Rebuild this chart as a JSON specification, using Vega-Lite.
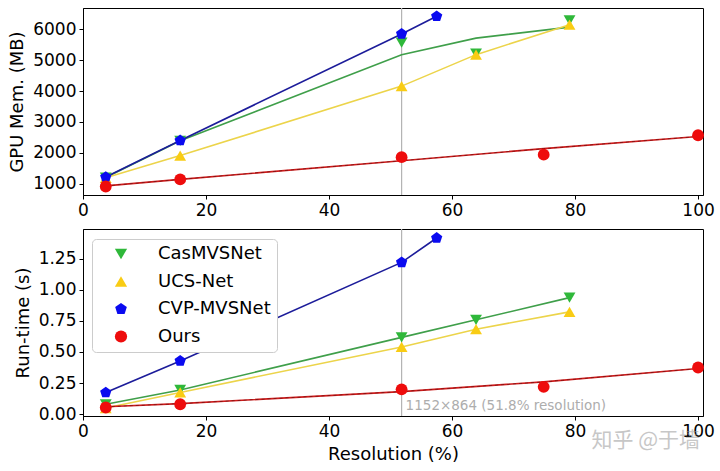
{
  "$schema": "https://vega.github.io/schema/vega-lite/v6.json",
  "background": "white",
  "padding": {"left": 8, "top": 6, "right": 14, "bottom": 4},
  "config": {
    "font": "DejaVu Sans",
    "view": {"stroke": "black", "strokeWidth": 1},
    "axis": {
      "grid": false,
      "domainColor": "black",
      "tickColor": "black",
      "labelColor": "black",
      "titleColor": "black",
      "labelFont": "DejaVu Sans",
      "titleFont": "DejaVu Sans",
      "labelFontSize": 17,
      "titleFontSize": 18,
      "titleFontWeight": "normal",
      "tickSize": 4,
      "labelPadding": 3,
      "titlePadding": 6,
      "labelOverlap": false,
      "labelFlush": false
    }
  },
  "datasets": {
    "mem_pts": [
      {"method": "CasMVSNet", "x": 3.7, "y": 1200},
      {"method": "CasMVSNet", "x": 15.8, "y": 2390},
      {"method": "CasMVSNet", "x": 51.8, "y": 5570},
      {"method": "CasMVSNet", "x": 63.9, "y": 5210},
      {"method": "CasMVSNet", "x": 79.1, "y": 6290},
      {"method": "UCS-Net", "x": 3.7, "y": 1190},
      {"method": "UCS-Net", "x": 15.8, "y": 1910},
      {"method": "UCS-Net", "x": 51.8, "y": 4160},
      {"method": "UCS-Net", "x": 63.9, "y": 5180},
      {"method": "UCS-Net", "x": 79.1, "y": 6150},
      {"method": "CVP-MVSNet", "x": 3.7, "y": 1215},
      {"method": "CVP-MVSNet", "x": 15.8, "y": 2400},
      {"method": "CVP-MVSNet", "x": 51.8, "y": 5850},
      {"method": "CVP-MVSNet", "x": 57.5, "y": 6420},
      {"method": "Ours", "x": 3.7, "y": 910},
      {"method": "Ours", "x": 15.8, "y": 1140},
      {"method": "Ours", "x": 51.8, "y": 1860},
      {"method": "Ours", "x": 74.9, "y": 1940},
      {"method": "Ours", "x": 100, "y": 2570}
    ],
    "mem_line": [
      {"method": "CasMVSNet", "x": 3.7, "y": 1200},
      {"method": "CasMVSNet", "x": 15.8, "y": 2390},
      {"method": "CasMVSNet", "x": 51.8, "y": 5175},
      {"method": "CasMVSNet", "x": 63.9, "y": 5715},
      {"method": "CasMVSNet", "x": 79.1, "y": 6070},
      {"method": "UCS-Net", "x": 3.7, "y": 1190},
      {"method": "UCS-Net", "x": 15.8, "y": 1910},
      {"method": "UCS-Net", "x": 51.8, "y": 4160},
      {"method": "UCS-Net", "x": 63.9, "y": 5180},
      {"method": "UCS-Net", "x": 79.1, "y": 6150},
      {"method": "CVP-MVSNet", "x": 3.7, "y": 1215},
      {"method": "CVP-MVSNet", "x": 15.8, "y": 2400},
      {"method": "CVP-MVSNet", "x": 51.8, "y": 5850},
      {"method": "CVP-MVSNet", "x": 57.5, "y": 6420},
      {"method": "Ours", "x": 3.7, "y": 930},
      {"method": "Ours", "x": 15.8, "y": 1140},
      {"method": "Ours", "x": 51.8, "y": 1745},
      {"method": "Ours", "x": 74.9, "y": 2135},
      {"method": "Ours", "x": 100, "y": 2530}
    ],
    "rt_pts": [
      {"method": "CasMVSNet", "x": 3.7, "y": 0.08},
      {"method": "CasMVSNet", "x": 15.8, "y": 0.195},
      {"method": "CasMVSNet", "x": 51.8, "y": 0.617},
      {"method": "CasMVSNet", "x": 63.9, "y": 0.758},
      {"method": "CasMVSNet", "x": 79.1, "y": 0.936},
      {"method": "UCS-Net", "x": 3.7, "y": 0.05},
      {"method": "UCS-Net", "x": 15.8, "y": 0.175},
      {"method": "UCS-Net", "x": 51.8, "y": 0.54},
      {"method": "UCS-Net", "x": 63.9, "y": 0.683},
      {"method": "UCS-Net", "x": 79.1, "y": 0.822},
      {"method": "CVP-MVSNet", "x": 3.7, "y": 0.174},
      {"method": "CVP-MVSNet", "x": 15.8, "y": 0.428},
      {"method": "CVP-MVSNet", "x": 51.8, "y": 1.219},
      {"method": "CVP-MVSNet", "x": 57.5, "y": 1.415},
      {"method": "Ours", "x": 3.7, "y": 0.054},
      {"method": "Ours", "x": 15.8, "y": 0.08},
      {"method": "Ours", "x": 51.8, "y": 0.2},
      {"method": "Ours", "x": 74.9, "y": 0.22},
      {"method": "Ours", "x": 100, "y": 0.375}
    ],
    "rt_line": [
      {"method": "CasMVSNet", "x": 3.7, "y": 0.08},
      {"method": "CasMVSNet", "x": 15.8, "y": 0.195},
      {"method": "CasMVSNet", "x": 51.8, "y": 0.617},
      {"method": "CasMVSNet", "x": 63.9, "y": 0.758},
      {"method": "CasMVSNet", "x": 79.1, "y": 0.936},
      {"method": "UCS-Net", "x": 3.7, "y": 0.05},
      {"method": "UCS-Net", "x": 15.8, "y": 0.175},
      {"method": "UCS-Net", "x": 51.8, "y": 0.54},
      {"method": "UCS-Net", "x": 63.9, "y": 0.683},
      {"method": "UCS-Net", "x": 79.1, "y": 0.822},
      {"method": "CVP-MVSNet", "x": 3.7, "y": 0.174},
      {"method": "CVP-MVSNet", "x": 15.8, "y": 0.428},
      {"method": "CVP-MVSNet", "x": 51.8, "y": 1.219},
      {"method": "CVP-MVSNet", "x": 57.5, "y": 1.415},
      {"method": "Ours", "x": 3.7, "y": 0.06},
      {"method": "Ours", "x": 15.8, "y": 0.085},
      {"method": "Ours", "x": 51.8, "y": 0.182},
      {"method": "Ours", "x": 74.9, "y": 0.26},
      {"method": "Ours", "x": 100, "y": 0.367}
    ],
    "ref": [{"x": 51.8, "y": 0.067, "label": "1152×864 (51.8% resolution)"}],
    "wm": [{"x": 91.5, "y": -0.215, "label": "知乎 @于墙"}]
  },
  "spacing": 8,
  "resolve": {"scale": {"color": "independent", "shape": "independent"}},
  "vconcat": [
    {
      "width": 620,
      "height": 187,
      "resolve": {"scale": {"color": "independent", "shape": "independent"}},
      "layer": [
        {
          "data": {"name": "ref"},
          "mark": {"type": "rule", "color": "#b4b4b4", "strokeWidth": 1.2},
          "encoding": {
            "x": {"field": "x", "type": "quantitative", "scale": {"domain": [0, 100.8], "nice": false}}
          }
        },
        {
          "data": {"name": "mem_line"},
          "mark": {"type": "line", "strokeWidth": 1.6},
          "encoding": {
            "x": {"field": "x", "type": "quantitative", "scale": {"domain": [0, 100.8], "nice": false},
                  "axis": {"values": [0, 20, 40, 60, 80, 100], "tickCount": 20, "title": null, "labelOverlap": false}},
            "y": {"field": "y", "type": "quantitative", "scale": {"domain": [634, 6690], "nice": false, "zero": false},
                  "axis": {"values": [1000, 2000, 3000, 4000, 5000, 6000], "tickCount": 20, "format": "d", "title": "GPU Mem. (MB)", "labelOverlap": false}},
            "color": {"field": "method", "type": "nominal",
                      "scale": {"domain": ["CasMVSNet", "UCS-Net", "CVP-MVSNet", "Ours"],
                                "range": ["#3f9f4a", "#ecd44a", "#1c1c9a", "#cc1a1a"]},
                      "legend": null}
          }
        },
        {
          "data": {"name": "mem_line"},
          "transform": [{"filter": "datum.method === 'Ours'"}],
          "mark": {"type": "line", "color": "#000000", "strokeDash": [3, 3], "strokeWidth": 0.7, "opacity": 0.45},
          "encoding": {
            "x": {"field": "x", "type": "quantitative"},
            "y": {"field": "y", "type": "quantitative"}
          }
        },
        {
          "data": {"name": "mem_pts"},
          "mark": {"type": "point", "filled": true, "opacity": 1, "size": 140, "strokeWidth": 0},
          "encoding": {
            "x": {"field": "x", "type": "quantitative"},
            "y": {"field": "y", "type": "quantitative"},
            "color": {"field": "method", "type": "nominal",
                      "scale": {"domain": ["CasMVSNet", "UCS-Net", "CVP-MVSNet", "Ours"],
                                "range": ["#2fb83a", "#f9cc14", "#0a0af0", "#ee0c0c"]},
                      "legend": null},
            "shape": {"field": "method", "type": "nominal",
                      "scale": {"domain": ["CasMVSNet", "UCS-Net", "CVP-MVSNet", "Ours"],
                                "range": ["triangle-down", "triangle-up", "M0,-1L0.951,-0.309L0.588,0.809L-0.588,0.809L-0.951,-0.309Z", "circle"]},
                      "legend": null}
          }
        }
      ]
    },
    {
      "width": 620,
      "height": 187,
      "resolve": {"scale": {"color": "independent", "shape": "independent"}},
      "layer": [
        {
          "data": {"name": "ref"},
          "mark": {"type": "rule", "color": "#b4b4b4", "strokeWidth": 1.2},
          "encoding": {
            "x": {"field": "x", "type": "quantitative", "scale": {"domain": [0, 100.8], "nice": false}}
          }
        },
        {
          "data": {"name": "rt_line"},
          "mark": {"type": "line", "strokeWidth": 1.6},
          "encoding": {
            "x": {"field": "x", "type": "quantitative", "scale": {"domain": [0, 100.8], "nice": false},
                  "axis": {"values": [0, 20, 40, 60, 80, 100], "tickCount": 20, "title": "Resolution (%)", "labelOverlap": false}},
            "y": {"field": "y", "type": "quantitative", "scale": {"domain": [-0.014, 1.487], "nice": false, "zero": false},
                  "axis": {"values": [0, 0.25, 0.5, 0.75, 1, 1.25], "tickCount": 20, "format": ".2f", "title": "Run-time (s)", "labelOverlap": false}},
            "color": {"field": "method", "type": "nominal",
                      "scale": {"domain": ["CasMVSNet", "UCS-Net", "CVP-MVSNet", "Ours"],
                                "range": ["#3f9f4a", "#ecd44a", "#1c1c9a", "#cc1a1a"]},
                      "legend": null}
          }
        },
        {
          "data": {"name": "rt_line"},
          "transform": [{"filter": "datum.method === 'Ours'"}],
          "mark": {"type": "line", "color": "#000000", "strokeDash": [3, 3], "strokeWidth": 0.7, "opacity": 0.45},
          "encoding": {
            "x": {"field": "x", "type": "quantitative"},
            "y": {"field": "y", "type": "quantitative"}
          }
        },
        {
          "data": {"name": "rt_pts"},
          "mark": {"type": "point", "filled": true, "opacity": 1, "size": 140, "strokeWidth": 0},
          "encoding": {
            "x": {"field": "x", "type": "quantitative"},
            "y": {"field": "y", "type": "quantitative"},
            "color": {"field": "method", "type": "nominal",
                      "scale": {"domain": ["CasMVSNet", "UCS-Net", "CVP-MVSNet", "Ours"],
                                "range": ["#2fb83a", "#f9cc14", "#0a0af0", "#ee0c0c"]},
                      "legend": {"title": null, "orient": "none", "legendX": 9, "legendY": 10,
                                 "fillColor": "white", "strokeColor": "#cccccc", "cornerRadius": 4, "padding": 6,
                                 "labelFontSize": 18, "labelFont": "DejaVu Sans", "labelColor": "black",
                                 "symbolSize": 150, "symbolOffset": 14, "labelOffset": 28, "rowPadding": 9.5,
                                 "symbolStrokeWidth": 0, "symbolOpacity": 1}},
            "shape": {"field": "method", "type": "nominal",
                      "scale": {"domain": ["CasMVSNet", "UCS-Net", "CVP-MVSNet", "Ours"],
                                "range": ["triangle-down", "triangle-up", "M0,-1L0.951,-0.309L0.588,0.809L-0.588,0.809L-0.951,-0.309Z", "circle"]},
                      "legend": {"title": null, "orient": "none", "legendX": 9, "legendY": 10,
                                 "fillColor": "white", "strokeColor": "#cccccc", "cornerRadius": 4, "padding": 6,
                                 "labelFontSize": 18, "labelFont": "DejaVu Sans", "labelColor": "black",
                                 "symbolSize": 150, "symbolOffset": 14, "labelOffset": 28, "rowPadding": 9.5,
                                 "symbolStrokeWidth": 0, "symbolOpacity": 1}}
          }
        },
        {
          "data": {"name": "ref"},
          "mark": {"type": "text", "align": "left", "baseline": "middle", "dx": 4, "fontSize": 13.5, "color": "#adadad", "font": "DejaVu Sans"},
          "encoding": {
            "x": {"field": "x", "type": "quantitative"},
            "y": {"field": "y", "type": "quantitative"},
            "text": {"field": "label"}
          }
        },
        {
          "data": {"name": "wm"},
          "mark": {"type": "text", "align": "center", "baseline": "middle", "fontSize": 21, "color": "#9a9a9a", "opacity": 0.55, "font": "Noto Sans CJK SC"},
          "encoding": {
            "x": {"field": "x", "type": "quantitative"},
            "y": {"field": "y", "type": "quantitative"},
            "text": {"field": "label"}
          }
        }
      ]
    }
  ]
}
